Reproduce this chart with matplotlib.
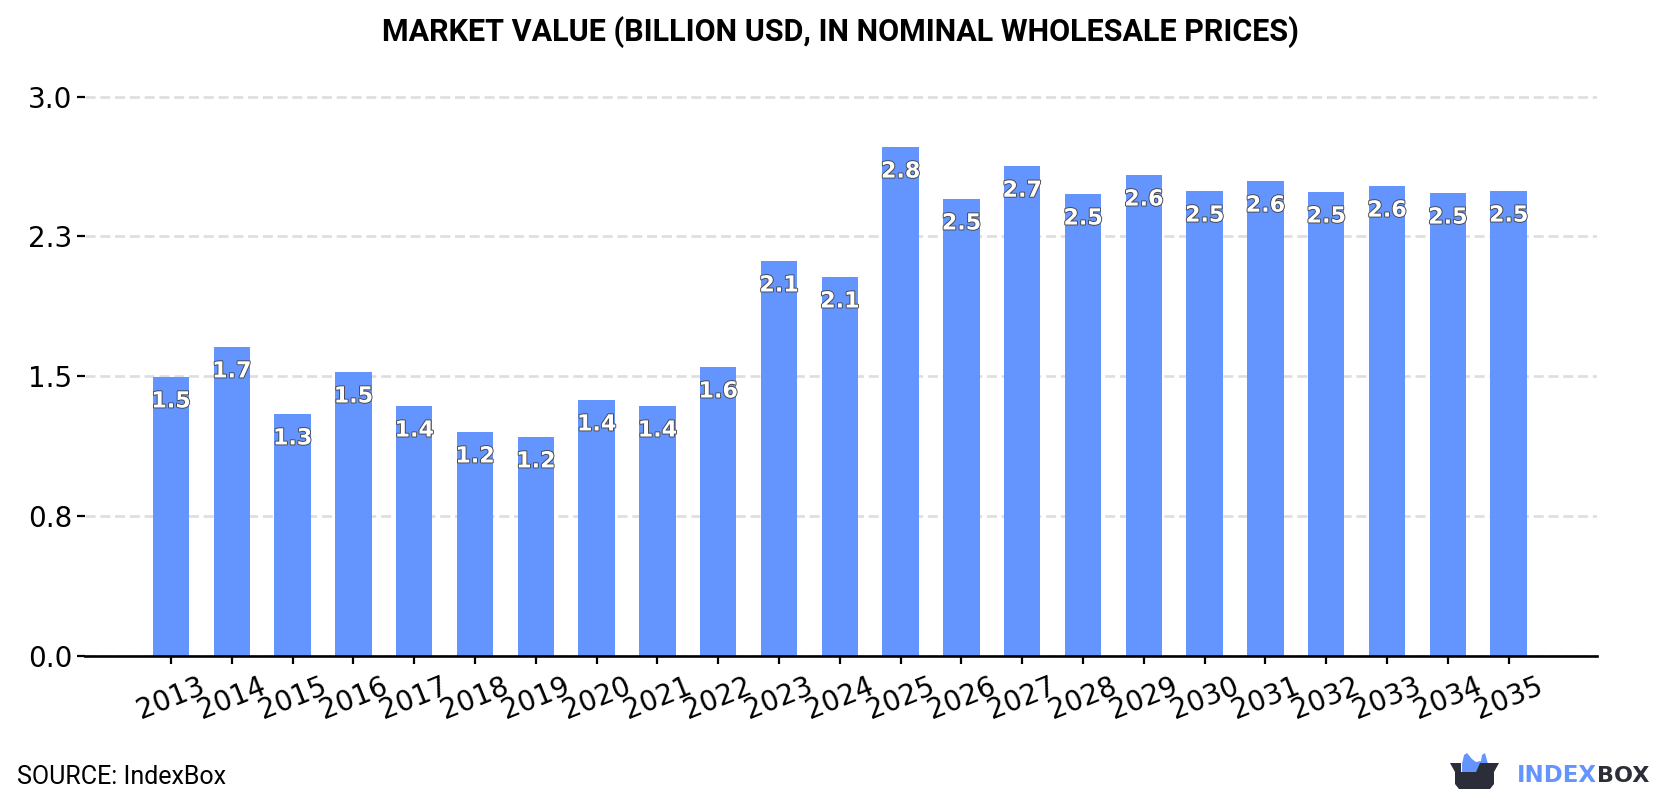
import matplotlib
matplotlib.use("Agg")
import matplotlib.pyplot as plt
import matplotlib.patheffects as pe
from matplotlib.patches import Polygon

# Market value by year, billion USD
years = [2013, 2014, 2015, 2016, 2017, 2018, 2019, 2020, 2021, 2022, 2023, 2024,
         2025, 2026, 2027, 2028, 2029, 2030, 2031, 2032, 2033, 2034, 2035]
values = [1.515, 1.678, 1.314, 1.542, 1.357, 1.216, 1.189, 1.39, 1.357, 1.569,
          2.145, 2.058, 2.764, 2.482, 2.66, 2.509, 2.612, 2.525, 2.579, 2.52, 2.552, 2.514, 2.525]
y_ticks = [0.0, 0.76, 1.52, 2.28, 3.04]

W, H = 1680, 800
BAR_COLOR = "#6495ff"
INK = "#2b2d38"

fig = plt.figure(figsize=(W / 100, H / 100), dpi=100, facecolor="white")

# Axes placed in pixels; the value scale is fixed at 559.5 px for the top tick
ax_left, ax_right, ax_bottom_px = 85, 1597, 656
ymax = 3.1
ax_h = 559.5 * ymax / y_ticks[-1]
ax = fig.add_axes([ax_left / W, (H - ax_bottom_px) / H, (ax_right - ax_left) / W, ax_h / H])

positions = list(range(len(years)))
ax.bar(positions, values, width=0.6, color=BAR_COLOR, zorder=3)

ax.set_xlim((ax_left - 171) / 60.8, (ax_right - 171) / 60.8)
ax.set_ylim(0, ymax)

ax.set_yticks(y_ticks)
ax.set_yticklabels([f"{t:.1f}" for t in y_ticks], fontsize=20, color="black")
ax.set_xticks(positions)
ax.set_xticklabels([str(y) for y in years], rotation=22, fontsize=20, color="black")
ax.tick_params(axis="y", length=5.8, width=1.6, pad=3.2)
ax.tick_params(axis="x", length=5.8, width=1.6, pad=5.5)

ax.grid(axis="y", color="#dedede", linewidth=1.9, linestyle=(0, (3.8, 1.8)), zorder=1)
ax.set_axisbelow(True)
for side in ("left", "right", "top"):
    ax.spines[side].set_visible(False)
ax.spines["bottom"].set_linewidth(1.9)
ax.spines["bottom"].set_zorder(5)

# Value labels sit just inside the top of each bar
for x, v in zip(positions, values):
    ax.annotate(f"{v:.1f}", (x, v), xytext=(0, -17.5), textcoords="offset points",
                ha="center", va="center", fontsize=16, fontweight="bold", color="white",
                family="DejaVu Sans", zorder=6,
                path_effects=[pe.withStroke(linewidth=1.3, foreground="#444444")])

fig.text(840 / W, 1 - 32.5 / H, "MARKET VALUE (BILLION USD, IN NOMINAL WHOLESALE PRICES)",
         ha="center", va="center", family="Roboto", fontweight="bold", fontsize=22, color="black")
fig.text(17 / W, 1 - 777 / H, "SOURCE: IndexBox", ha="left", va="center",
         family="Roboto", fontsize=18, color="black")

# Brand mark: box with two blue peaks, then the wordmark
def px(points):
    return [(x / W, 1 - y / H) for x, y in points]

fig.add_artist(Polygon(px([(1462, 764), (1464, 755), (1467, 753), (1472, 759), (1476, 762),
                           (1481, 761), (1482, 755), (1485, 753), (1488, 764), (1486, 768),
                           (1476, 772), (1462, 772)]),
                       closed=True, transform=fig.transFigure, facecolor=BAR_COLOR, edgecolor="none"))
fig.add_artist(Polygon(px([(1450, 763), (1461, 763), (1461, 772), (1476, 772), (1480, 763),
                           (1499, 763), (1494, 772), (1494, 784), (1490, 789), (1459, 789),
                           (1455, 784), (1455, 772)]),
                       closed=True, transform=fig.transFigure, facecolor=INK, edgecolor="none"))

fig.text(1517 / W, 1 - 782 / H, "INDEX", ha="left", va="baseline", family="DejaVu Sans",
         fontweight="bold", fontsize=16.5, color=BAR_COLOR)
fig.text(1597 / W, 1 - 782 / H, "BOX", ha="left", va="baseline", family="DejaVu Sans",
         fontweight="bold", fontsize=16, color=INK)

fig.savefig("out.png", dpi=100, facecolor="white")
